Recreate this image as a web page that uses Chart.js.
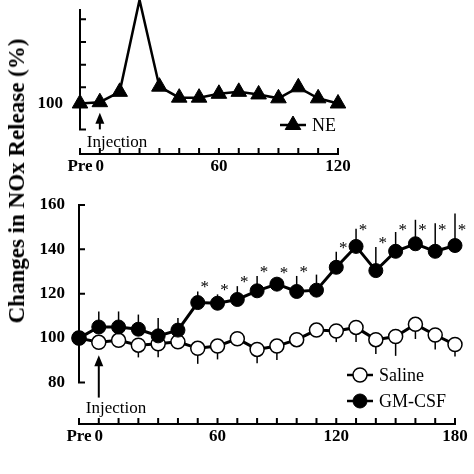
<!DOCTYPE html>
<html><head><meta charset="utf-8">
<script src="https://cdn.jsdelivr.net/npm/chart.js@4.4.1/dist/chart.umd.min.js"></script>
<style>
html,body{margin:0;padding:0;background:#fff;width:474px;height:474px;overflow:hidden;}
#wrap{position:relative;width:474px;height:474px;background:#fff;}
#c1{position:absolute;left:0;top:0;}
#c2{position:absolute;left:0;top:180px;}
#ytitle{position:absolute;left:17px;top:181px;transform:translate(-50%,-50%) rotate(-90deg);
 font:bold 23px 'Liberation Serif','Times New Roman',serif;white-space:nowrap;color:#000;}
</style></head><body>
<div id="wrap">
<canvas id="c1" width="474" height="180"></canvas>
<canvas id="c2" width="474" height="294"></canvas>
<div id="ytitle">Changes in NOx Release (%)</div>
</div>
<script>
// ---------- data ----------
const neTimes = [-10,0,10,20,30,40,50,60,70,80,90,100,110,120];
const neValues = [100,101,109,180,113,104.5,104.5,107.5,109,107,104,112.5,104,100];

const times = [-10,0,10,20,30,40,50,60,70,80,90,100,110,120,130,140,150,160,170,180];
const gmcsfValues = [100,105,105,104,101,103.6,116,115.7,117.4,121.3,124.3,121,121.6,131.9,141.3,130.4,139.1,142.5,139.1,141.7];
const gmcsfErrors = [0,7,7,6.6,8,5.5,5,4,6,6.7,3,7,7,7,8,10.6,8.7,10.8,12.6,14.4];
const gmcsfSignificant = [0,0,0,0,0,0,1,1,1,1,1,1,0,1,1,1,1,1,1,1];
const salineValues = [100,98.1,99,96.8,97.4,98.3,95.4,96.4,99.7,94.9,96.4,99.3,103.6,103.2,104.8,99.3,100.7,106.2,101.4,97.1];
const salineErrors = [0,3,3,5.5,6,3,7,6,3,6.2,6.3,3,3,5,6.6,6.5,8.7,6.6,6.5,5.4];

const xTickValues = [-10,0,60,120,180];
const xTickLabels = ['Pre','0','60','120','180'];
const bottomYTicks = [80,100,120,140,160];
const topYLabelTicks = [100];
const topYTickMarks = [80,100,112.5,130,147.5,165];

// ---------- helpers ----------
const SERIF = "'Liberation Serif','Times New Roman',serif";
const pts = (xs, ys) => xs.map((t,i)=>({x:t,y:ys[i]}));
const zeroPad = s => { s.paddingTop=0; s.paddingBottom=0; s.paddingLeft=0; s.paddingRight=0; };

function panelPlugin(cfg){
  return {
    id: 'panel_' + cfg.name,
    beforeDatasetsDraw(chart){
      const ctx = chart.ctx, xs = chart.scales.x, ys = chart.scales.y, ca = chart.chartArea;
      ctx.save();
      ctx.strokeStyle = '#000';
      // axes
      ctx.lineWidth = 2;
      ctx.lineCap = 'square';
      ctx.beginPath();
      ctx.moveTo(ca.left, ys.getPixelForValue(cfg.yAxisFrom));
      ctx.lineTo(ca.left, ys.getPixelForValue(cfg.yAxisTo));
      cfg.yTickMarks.forEach(v => {
        const py = ys.getPixelForValue(v);
        ctx.moveTo(ca.left, py); ctx.lineTo(ca.left + 5, py);
      });
      ctx.moveTo(xs.getPixelForValue(xs.min), ca.bottom);
      ctx.lineTo(xs.getPixelForValue(xs.max), ca.bottom);
      for (let v = xs.min; v <= xs.max + 1e-9; v += cfg.xStep){
        const px = xs.getPixelForValue(v);
        ctx.moveTo(px, ca.bottom); ctx.lineTo(px, ca.bottom - 5);
      }
      ctx.stroke();
      // error bars
      ctx.lineWidth = 1.5;
      ctx.lineCap = 'butt';
      (cfg.errorBars || []).forEach(eb => {
        eb.times.forEach((t,i) => {
          const e = eb.errors[i]; if (!e) return;
          const px = xs.getPixelForValue(t);
          ctx.beginPath();
          ctx.moveTo(px, ys.getPixelForValue(eb.values[i]));
          ctx.lineTo(px, ys.getPixelForValue(eb.values[i] + eb.dir * e));
          ctx.stroke();
        });
      });
      ctx.restore();
    },
    afterDatasetsDraw(chart){
      const ctx = chart.ctx, xs = chart.scales.x, ys = chart.scales.y, ca = chart.chartArea;
      ctx.save();
      // asterisks
      if (cfg.sig){
        ctx.fillStyle = '#000';
        ctx.font = '17px ' + SERIF;
        ctx.textAlign = 'center';
        ctx.textBaseline = 'middle';
        cfg.sig.flags.forEach((f,i) => {
          if (!f) return;
          const v = Math.min(cfg.sig.values[i] + cfg.sig.errors[i] + 3, 150);
          ctx.fillText('*', xs.getPixelForValue(cfg.sig.times[i]) + 7, ys.getPixelForValue(v) + 3);
        });
      }
      // injection arrow
      const inj = cfg.injection;
      const ax = xs.getPixelForValue(inj.x);
      const tip = ys.getPixelForValue(inj.tipValue), base = ys.getPixelForValue(inj.baseValue);
      ctx.strokeStyle = '#000'; ctx.fillStyle = '#000'; ctx.lineWidth = 2;
      ctx.beginPath(); ctx.moveTo(ax, base); ctx.lineTo(ax, tip + 8); ctx.stroke();
      ctx.beginPath(); ctx.moveTo(ax, tip); ctx.lineTo(ax - 4.5, tip + 11); ctx.lineTo(ax + 4.5, tip + 11); ctx.closePath(); ctx.fill();
      ctx.font = '17px ' + SERIF;
      ctx.textAlign = 'left'; ctx.textBaseline = 'middle';
      ctx.fillText(inj.text, ax + inj.textDx, ys.getPixelForValue(inj.labelValue));
      // legend
      const lg = cfg.legend;
      lg.rows.forEach((row, k) => {
        const ds = chart.data.datasets[row.dataset];
        const mx = ca.right - lg.fromRight;
        const my = ca.bottom - row.fromBottom;
        ctx.strokeStyle = '#000'; ctx.lineWidth = 2.5;
        ctx.beginPath(); ctx.moveTo(mx - 13, my); ctx.lineTo(mx + 13, my); ctx.stroke();
        ctx.fillStyle = ds.pointBackgroundColor; ctx.strokeStyle = ds.pointBorderColor;
        ctx.lineWidth = ds.pointBorderWidth;
        Chart.helpers.drawPoint(ctx, {pointStyle: ds.pointStyle, radius: ds.pointRadius, borderWidth: ds.pointBorderWidth, rotation: 0}, mx, my);
        ctx.fillStyle = '#000';
        ctx.font = '18px ' + SERIF;
        ctx.textAlign = 'left'; ctx.textBaseline = 'middle';
        ctx.fillText(ds.label, mx + lg.textDx, my + 1);
      });
      ctx.restore();
    }
  };
}

const tickFont = {family: SERIF, size: 17, weight: 'bold'};

// ---------- top panel (NE) ----------
new Chart(document.getElementById('c1'), {
  type: 'line',
  data: { datasets: [{
    label: 'NE', data: pts(neTimes, neValues),
    borderColor: '#000', borderWidth: 2.5, tension: 0, clip: false,
    pointStyle: 'triangle', pointRadius: 9, pointBackgroundColor: '#000', pointBorderColor: '#000', pointBorderWidth: 1
  }]},
  options: {
    responsive: false, animation: false, devicePixelRatio: 1,
    layout: { padding: {left: 0, right: 136, top: 0, bottom: 0} },
    plugins: { legend: {display: false}, tooltip: {enabled: false} },
    scales: {
      x: { type: 'linear', min: -10, max: 120,
        grid: {display: false, drawTicks: false}, border: {display: false},
        afterBuildTicks: s => { s.ticks = xTickValues.filter(v => v <= 120).map(v => ({value: v})); },
        afterFit: s => { s.height = 26; zeroPad(s); },
        ticks: { autoSkip: false, maxRotation: 0, padding: 2, color: '#000', font: tickFont,
          callback: v => xTickLabels[xTickValues.indexOf(v)] } },
      y: { type: 'linear', min: 61.0, max: 172.2,
        grid: {display: false, drawTicks: false}, border: {display: false},
        afterBuildTicks: s => { s.ticks = topYLabelTicks.map(v => ({value: v})); },
        afterFit: s => { s.width = 80; zeroPad(s); },
        ticks: { padding: 17, color: '#000', font: tickFont, callback: v => String(v) } }
    }
  },
  plugins: [panelPlugin({
    name: 'top', yAxisFrom: 80, yAxisTo: 172.2, yTickMarks: topYTickMarks, xStep: 10,
    injection: {x: 0, tipValue: 92.8, baseValue: 80, labelValue: 70, text: 'Injection', textDx: -13},
    legend: {fromRight: 45, textDx: 19, rows: [{dataset: 0, fromBottom: 29}]}
  })]
});

// ---------- bottom panel (Saline / GM-CSF) ----------
new Chart(document.getElementById('c2'), {
  type: 'line',
  data: { datasets: [
    { label: 'GM-CSF', data: pts(times, gmcsfValues),
      borderColor: '#000', borderWidth: 3, tension: 0, clip: false,
      pointStyle: 'circle', pointRadius: 7, pointBackgroundColor: '#000', pointBorderColor: '#000', pointBorderWidth: 1 },
    { label: 'Saline', data: pts(times, salineValues),
      borderColor: '#000', borderWidth: 3, tension: 0, clip: false,
      pointStyle: 'circle', pointRadius: 7, pointBackgroundColor: '#fff', pointBorderColor: '#000', pointBorderWidth: 1.5 }
  ]},
  options: {
    responsive: false, animation: false, devicePixelRatio: 1,
    layout: { padding: {left: 0, right: 19, top: 0, bottom: 0} },
    plugins: { legend: {display: false}, tooltip: {enabled: false} },
    scales: {
      x: { type: 'linear', min: -10, max: 180,
        grid: {display: false, drawTicks: false}, border: {display: false},
        afterBuildTicks: s => { s.ticks = xTickValues.map(v => ({value: v})); },
        afterFit: s => { s.height = 50; zeroPad(s); },
        ticks: { autoSkip: false, maxRotation: 0, padding: 2, color: '#000', font: tickFont,
          callback: v => xTickLabels[xTickValues.indexOf(v)] } },
      y: { type: 'linear', min: 61.3, max: 167.39,
        grid: {display: false, drawTicks: false}, border: {display: false},
        afterBuildTicks: s => { s.ticks = bottomYTicks.map(v => ({value: v})); },
        afterFit: s => { s.width = 79; zeroPad(s); },
        ticks: { padding: 14, color: '#000', font: tickFont, callback: v => String(v) } }
    }
  },
  plugins: [panelPlugin({
    name: 'bottom', yAxisFrom: 80, yAxisTo: 160, yTickMarks: bottomYTicks, xStep: 10,
    errorBars: [
      {times: times, values: gmcsfValues, errors: gmcsfErrors, dir: 1},
      {times: times, values: salineValues, errors: salineErrors, dir: -1}
    ],
    sig: {times: times, values: gmcsfValues, errors: gmcsfErrors, flags: gmcsfSignificant},
    injection: {x: 0, tipValue: 92.3, baseValue: 73.2, labelValue: 68.3, text: 'Injection', textDx: -13},
    legend: {fromRight: 95, textDx: 19, rows: [{dataset: 1, fromBottom: 49}, {dataset: 0, fromBottom: 23}]}
  })]
});
</script>
</body></html>
